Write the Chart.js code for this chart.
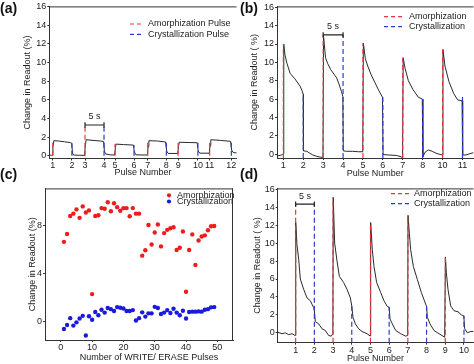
<!DOCTYPE html>
<html><head><meta charset="utf-8">
<script src="https://cdn.jsdelivr.net/npm/chart.js@4.4.1/dist/chart.umd.min.js"></script>
<style>
html,body{margin:0;padding:0;background:#fff;}
#wrap{position:relative;width:474px;height:364px;overflow:hidden;}
.pc{position:absolute;width:237px;height:182px;}
.lab{position:absolute;font:bold 14px "Liberation Sans",Arial,sans-serif;line-height:16px;color:#111;}
</style></head>
<body><div id="wrap">
<div class="pc" style="left:0;top:0"><canvas id="ca" width="237" height="182"></canvas></div>
<div class="pc" style="left:237px;top:0"><canvas id="cb" width="237" height="182"></canvas></div>
<div class="pc" style="left:0;top:182px"><canvas id="cc" width="237" height="182"></canvas></div>
<div class="pc" style="left:237px;top:182px"><canvas id="cd" width="237" height="182"></canvas></div>
<div class="lab" style="left:0;top:0">(a)</div>
<div class="lab" style="left:240px;top:0">(b)</div>
<div class="lab" style="left:0;top:166px">(c)</div>
<div class="lab" style="left:240px;top:166px">(d)</div>
</div>
<script>
// ---------------- DATA ----------------
// (a) time (s) of each pulse and its label
const aPulseT = [0.9, 5.95, 9.4, 14.4, 17.3, 22.3, 25.9, 30.8, 33.9, 39.1, 42.2, 47.9];
const aPulseLabels = ['1','2','3','4','5','6','7','8','9','10','11','12'];
const aAmorphTops = [1.5, 3.3, 1.3, 1.6, 1.45, 1.7];
const aCrystTops  = [1.35, 3.3, 1.15, 1.5, 1.4, 1.55];
const aCurve = [[0,0.1],[0.6,0.05],[0.85,0.05],[0.95,1.0],[1.2,1.62],[2.5,1.58],[4,1.5],[5.5,1.42],[5.9,1.35],[6.1,0.3],[6.4,0.08],[8,0.05],[9.3,0.05],[9.45,1.0],[9.7,1.72],[11.5,1.65],[13.5,1.58],[14.3,1.52],[14.5,0.5],[14.8,0.2],[16,0.1],[17.2,0.08],[17.4,0.9],[17.6,1.25],[19.5,1.2],[22.1,1.15],[22.4,0.4],[22.8,0.1],[25.8,0.08],[26.0,1.0],[26.2,1.62],[28.5,1.58],[30.6,1.48],[30.9,0.5],[31.3,0.25],[33.8,0.25],[34.0,1.0],[34.2,1.45],[37,1.42],[38.9,1.4],[39.2,0.5],[39.6,0.28],[42.1,0.28],[42.3,1.1],[42.5,1.72],[45,1.65],[47.7,1.55],[48.0,0.6],[48.4,0.35],[49.4,0.3]];

// (b)
const bPulseT = [1.6, 6.6, 11.6, 16.6, 21.6, 26.6, 31.6, 36.6, 41.6, 46.6];
const bPulseLabels = ['1','2','3','4','5','6','7','8','10','11'];
const bAmorphTops = [12.0, 13.0, 12.1, 10.5, 11.4];
const bCrystTops  = [6.5, 13.0, 6.2, 6.0, 6.5];
const bCurve = [[0,-0.2],[0.8,-0.15],[1.4,-0.05],[1.6,0],[1.7,12.0],[2.0,10.8],[2.5,9.9],[3.3,8.8],[4.5,8.2],[5.8,7.4],[6.3,6.9],[6.6,6.5],[6.65,0.35],[7.5,0.3],[8.2,0.1],[9.0,-0.1],[10.0,-0.25],[11.0,-0.35],[11.55,-0.35],[11.7,12.8],[12.2,10.5],[12.7,9.9],[13.5,9.2],[14.5,8.6],[15.0,8.3],[15.6,7.6],[16.2,6.8],[16.55,6.3],[16.65,0.35],[17.5,0.3],[19,0.3],[20.5,0.25],[21.55,0.25],[21.7,12.1],[22.2,10.4],[22.8,9.6],[23.6,8.7],[24.6,7.8],[25.6,6.9],[26.5,6.2],[26.65,-0.05],[28,-0.1],[30,-0.15],[31.2,-0.3],[31.55,-0.45],[31.7,10.5],[32.2,9.3],[33.0,8.0],[34.2,7.0],[35.5,6.2],[36.5,6.0],[36.65,-0.3],[37.2,0.2],[38.0,0.45],[39,0.3],[40.2,0.05],[41.5,-0.1],[41.7,11.4],[42.2,9.6],[43.2,7.9],[44.4,6.6],[45.4,5.9],[46.5,5.8],[46.65,-0.1],[47.5,-0.1],[48.5,0.05],[49.4,0.15]];

// (c)
const cPulse = [1,2,3,4,5,6,7,8,9,10,11,12,13,14,15,16,17,18,19,20,21,22,23,24,25,26,27,28,29,30,31,32,33,34,35,36,37,38,39,40,41,42,43,44,45,46,47,48,49];
const cAmorph = [6.65,7.3,8.8,9.0,9.35,8.65,9.6,9.1,9.27,2.3,8.8,8.86,9.46,9.4,9.95,9.2,9.86,9.54,9.24,9.46,9.46,8.78,9.46,9.0,9.0,5.5,5.95,8.05,6.43,7.43,8.1,6.27,7.38,7.65,7.78,7.86,5.97,6.16,7.51,2.5,5.97,7.27,4.73,6.76,7.1,7.19,7.62,7.95,7.97];
const cCryst = [-0.6,-0.27,0.3,-0.32,-0.05,0.27,0.49,-1.14,0.46,0.16,0.81,0.54,1.0,0.76,1.14,1.05,0.89,1.22,1.16,1.1,0.89,0.89,0.97,0.1,0.3,0.78,0.43,0.7,0.7,1.24,1.14,0.65,0.76,0.97,0.73,1.08,0.76,0.54,0.92,0.27,0.81,0.84,0.84,0.86,0.84,1.0,1.05,1.2,1.22];
const cXTicks = [0,10,20,30,40,50];
const cYTicks = [0,4,8];

// (d)
const dPulseT = [4.8, 9.8, 14.8, 19.8, 24.8, 29.8, 34.8, 39.8, 44.8, 49.8];
const dPulseLabels = ['1','2','3','4','5','6','7','8','9','10'];
const dAmorphTops = [14.35, 15.1, 12.3, 13.1, 8.5];
const dCrystTops  = [14.35, 3.0, 2.9, 2.95, 1.9];
const dCurve = [[0,0.07],[1.15,-0.1],[2.04,0],[2.93,-0.2],[3.82,-0.1],[4.71,-0.3],[4.8,-0.3],[4.85,12.3],[5.16,9.8],[5.61,8.2],[6.05,6.0],[6.94,4.85],[7.83,3.9],[8.73,3.57],[9.62,2.8],[9.8,2.5],[10.06,1.25],[10.95,1.0],[11.85,0.45],[12.74,0.26],[13.63,-0.3],[14.34,-0.37],[14.75,-0.1],[14.85,15.1],[15.23,10.0],[15.86,8.0],[16.48,6.3],[17.64,5.6],[18.53,4.85],[19.42,3.9],[19.8,3.0],[20.13,1.73],[20.76,1.0],[21.65,0.44],[22.54,0.15],[23.88,-0.1],[24.7,-0.35],[24.85,12.3],[25.3,9.26],[25.75,7.4],[26.46,5.6],[27.53,4.5],[28.42,3.57],[29.31,2.94],[29.8,2.83],[30.03,1.54],[30.65,1.0],[31.54,0.26],[32.88,-0.1],[34.22,-0.37],[34.75,-0.3],[34.85,13.1],[35.2,11.1],[35.55,9.26],[36.27,7.4],[37.33,5.96],[38.4,4.5],[39.56,3.2],[39.8,2.94],[40.01,1.73],[40.72,1.0],[41.79,0.26],[43.13,-0.1],[44.64,-0.48],[44.85,8.46],[45.09,6.7],[45.53,4.85],[46.25,3.0],[47.14,2.46],[48.21,2.35],[49.1,2.0],[49.75,1.9],[49.99,0.45],[50.7,0.0],[51.6,0.15],[52.35,0.15]];

const readoutTicks = [0,2,4,6,8,10,12,14,16];

// ---------------- STYLE / HELPERS ----------------
const FONT = '"Liberation Sans", Arial, sans-serif';
Chart.defaults.font.family = FONT;
Chart.defaults.font.size = 9;
Chart.defaults.color = '#222';
const RED = '#e5363f', BLUE = '#2b3cd0', INK = '#2a2a2a', AX = '#333';

const extras = {
  id: 'extras',
  afterDatasetsDraw(chart, args, o) {
    const ctx = chart.ctx, ca = chart.chartArea;
    const xs = chart.scales.x, ys = chart.scales.y;
    ctx.save();
    ctx.setLineDash([]);
    ctx.strokeStyle = AX; ctx.lineWidth = 1;
    if (o.frameTop) { ctx.beginPath(); ctx.moveTo(ca.left, ca.top + 0.5); ctx.lineTo(ca.right, ca.top + 0.5); ctx.stroke(); }
    if (o.frameRight) { ctx.beginPath(); ctx.moveTo(ca.right - 0.5, ca.top); ctx.lineTo(ca.right - 0.5, ca.bottom); ctx.stroke(); }
    if (o.bracket) {
      const [t1, t2, v] = o.bracket;
      const x1 = xs.getPixelForValue(t1), x2 = xs.getPixelForValue(t2), y = ys.getPixelForValue(v);
      ctx.strokeStyle = '#222'; ctx.lineWidth = 1.2;
      ctx.beginPath();
      ctx.moveTo(x1, y); ctx.lineTo(x2, y);
      ctx.moveTo(x1, y - 2.7); ctx.lineTo(x1, y + 2.7);
      ctx.moveTo(x2, y - 2.7); ctx.lineTo(x2, y + 2.7);
      ctx.stroke();
      ctx.fillStyle = '#222'; ctx.font = '9px ' + FONT; ctx.textAlign = 'center'; ctx.textBaseline = 'middle';
      ctx.fillText('5 s', (x1 + x2) / 2, y - 8);
    }
    if (o.xTitle) {
      ctx.fillStyle = '#222'; ctx.font = '9px ' + FONT; ctx.textAlign = 'center'; ctx.textBaseline = 'middle';
      ctx.fillText(o.xTitle.text, o.xTitle.x, o.xTitle.y);
    }
    if (o.legend) {
      ctx.font = '9px ' + FONT; ctx.textAlign = 'left'; ctx.textBaseline = 'middle';
      for (const it of o.legend) {
        if (it.kind === 'dot') {
          ctx.fillStyle = it.color; ctx.beginPath(); ctx.arc(it.x1, it.y, 2.1, 0, Math.PI * 2); ctx.fill();
        } else {
          ctx.strokeStyle = it.color; ctx.lineWidth = 1.2; ctx.setLineDash([4, 3]);
          ctx.beginPath(); ctx.moveTo(it.x1, it.y); ctx.lineTo(it.x2, it.y); ctx.stroke(); ctx.setLineDash([]);
        }
        ctx.fillStyle = '#222';
        ctx.fillText(it.text, it.tx, it.y);
      }
    }
    ctx.restore();
  }
};

function axisY(width, min, max, ticks, title, titlePad) {
  return {
    type: 'linear', min, max,
    afterFit(s) { s.width = width; },
    afterBuildTicks(s) { s.ticks = ticks.map(v => ({ value: v })); },
    grid: { drawOnChartArea: false, drawTicks: true, tickLength: 2, color: AX },
    border: { display: true, color: AX, width: 1 },
    ticks: { padding: 1, autoSkip: false, color: '#222', font: { size: 9 } },
    title: { display: true, text: title, color: '#222', font: { size: 9 }, padding: { top: titlePad, bottom: 0 } }
  };
}
function axisX(height, min, max, ticks, labels, title, titlePad) {
  return {
    type: 'linear', min, max,
    afterFit(s) { s.height = height; },
    afterBuildTicks(s) { s.ticks = ticks.map(v => ({ value: v })); },
    grid: { drawOnChartArea: false, drawTicks: true, tickLength: 2, color: AX },
    border: { display: true, color: AX, width: 1 },
    ticks: { padding: 0, autoSkip: false, maxRotation: 0, color: '#222', font: { size: 9 },
             callback: (v, i) => labels ? labels[i] : String(v) },
    title: { display: !!title, text: title || '', color: '#222', font: { size: 9 }, padding: { top: 0, bottom: titlePad } }
  };
}
function markers(pulseT, tops, startIdx, base) {
  const out = [];
  tops.forEach((top, k) => {
    const t = pulseT[startIdx + 2 * k];
    out.push({ x: t, y: base }, { x: t, y: top }, { x: t, y: null });
  });
  return out;
}
function pulsePanel(id, p) {
  return new Chart(document.getElementById(id), {
    type: 'line',
    data: {
      datasets: [
        { data: markers(p.pulseT, p.amorphTops, 0, p.base), borderColor: RED, borderWidth: 1.2, borderDash: [5, 3], pointRadius: 0, spanGaps: false, order: 1 },
        { data: markers(p.pulseT, p.crystTops, 1, p.base), borderColor: BLUE, borderWidth: 1.2, borderDash: [5, 3], pointRadius: 0, spanGaps: false, order: 1 },
        { data: p.curve.map(q => ({ x: q[0], y: q[1] })), borderColor: INK, borderWidth: 1, pointRadius: 0, tension: 0, order: 2 }
      ]
    },
    options: {
      responsive: false, animation: false, events: [],
      layout: { padding: p.pad },
      plugins: { legend: { display: false }, tooltip: { enabled: false }, extras: p.extras },
      scales: {
        x: axisX(p.xH, 0, p.xMax, p.pulseT, p.labels, 'Pulse Number', p.xTitlePad),
        y: axisY(p.yW, p.yMin, p.yMax, readoutTicks, p.yTitle, p.yTitlePad)
      }
    },
    plugins: [extras]
  });
}

// ---------------- CHARTS ----------------
pulsePanel('ca', {
  pulseT: aPulseT, labels: aPulseLabels, amorphTops: aAmorphTops, crystTops: aCrystTops, base: 0, curve: aCurve,
  pad: { top: 6, right: 0.5, left: 0, bottom: 0 }, xH: 23.5, yW: 49.3, xMax: 49.26, yMin: -0.29, yMax: 16,
  xTitlePad: 3.6, yTitle: 'Change in Readout (%)', yTitlePad: 22.1,
  extras: { frameTop: true, bracket: [aPulseT[2], aPulseT[3], 3.3],
    legend: [
      { x1: 130, x2: 144, y: 24, tx: 148, color: RED, text: 'Amorphization Pulse' },
      { x1: 130, x2: 144, y: 34.3, tx: 148, color: BLUE, text: 'Crystallization Pulse' }
    ] }
});
pulsePanel('cb', {
  pulseT: bPulseT, labels: bPulseLabels, amorphTops: bAmorphTops, crystTops: bCrystTops, base: -0.43, curve: bCurve,
  pad: { top: 3.5, right: 0.5, left: 0, bottom: 0 }, xH: 24, yW: 40, xMax: 49.37, yMin: -0.43, yMax: 16.1,
  xTitlePad: 3.3, yTitle: 'Change in Readout ( %)', yTitlePad: 12.6,
  extras: { frameTop: true, bracket: [bPulseT[2], bPulseT[3], 13.0],
    legend: [
      { x1: 147, x2: 168, y: 16.7, tx: 172, color: RED, text: 'Amorphization' },
      { x1: 147, x2: 168, y: 26.7, tx: 172, color: BLUE, text: 'Crystallization' }
    ] }
});
new Chart(document.getElementById('cc'), {
  type: 'scatter',
  data: {
    datasets: [
      { data: cPulse.map((x, i) => ({ x, y: cAmorph[i] })), pointRadius: 2.2, pointBackgroundColor: '#ee1c1c', pointBorderWidth: 0, showLine: false },
      { data: cPulse.map((x, i) => ({ x, y: cCryst[i] })), pointRadius: 2.2, pointBackgroundColor: '#1a1adf', pointBorderWidth: 0, showLine: false }
    ]
  },
  options: {
    responsive: false, animation: false, events: [],
    layout: { padding: { top: 2.5, right: 0.5, left: 0, bottom: 0 } },
    plugins: { legend: { display: false }, tooltip: { enabled: false },
      extras: { frameTop: true, frameRight: true,
        xTitle: { text: 'Number of WRITE/ ERASE Pulses', x: 149, y: 175.7 },
        legend: [
          { kind: 'dot', x1: 169, y: 13.3, tx: 177, color: '#ee1c1c', text: 'Amorphization' },
          { kind: 'dot', x1: 169, y: 19.5, tx: 177, color: '#1a1adf', text: 'Crystallization' }
        ] } },
    scales: {
      x: axisX(24, -5.05, 55, cXTicks, null, null, 0),
      y: axisY(45, -1.52, 11.1, cYTicks, 'Change in Readout (%)', 27.1)
    }
  },
  plugins: [extras]
});
pulsePanel('cd', {
  pulseT: dPulseT, labels: dPulseLabels, amorphTops: dAmorphTops, crystTops: dCrystTops, base: -1.1, curve: dCurve,
  pad: { top: 4.5, right: 0.5, left: 0, bottom: 0 }, xH: 21.3, yW: 40.7, xMax: 52.35, yMin: -1.1, yMax: 16.1,
  xTitlePad: 0, yTitle: 'Change in Readout ( %)', yTitlePad: 15.4,
  extras: { frameTop: true, bracket: [dPulseT[0], dPulseT[1], 14.35],
    legend: [
      { x1: 154, x2: 175, y: 11.7, tx: 177, color: RED, text: 'Amorphization' },
      { x1: 154, x2: 175, y: 21.7, tx: 177, color: BLUE, text: 'Crystallization' }
    ] }
});
</script>
</body></html>
